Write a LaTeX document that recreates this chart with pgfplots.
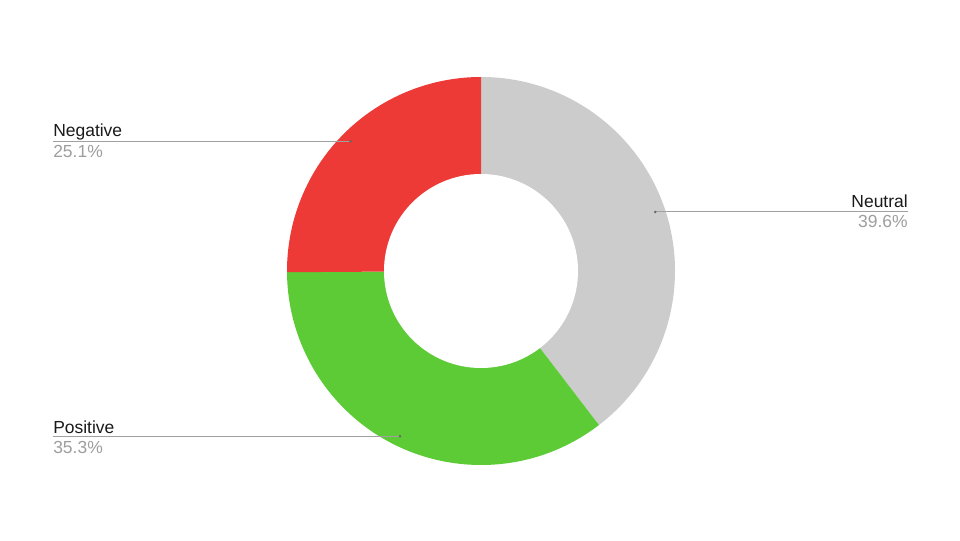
\documentclass[border=0pt]{standalone}
\usepackage{pgfplots}
\usepackage{pgfplotstable}
\pgfplotsset{compat=1.18}
\usepackage{fontspec}
\setmainfont{Liberation Sans}
\definecolor{neutralc}{HTML}{CCCCCC}
\definecolor{positivec}{HTML}{5DCB35}
\definecolor{negativec}{HTML}{EE3A36}
\definecolor{pctc}{HTML}{9E9E9E}
\definecolor{leadc}{HTML}{A0A0A0}
\definecolor{txtc}{HTML}{1A1A1A}

\pgfplotstableread{
label value
Neutral 39.6
Positive 35.3
Negative 25.1
}\piedata
\pgfplotstablegetelem{0}{value}\of\piedata \let\vA\pgfplotsretval
\pgfplotstablegetelem{1}{value}\of\piedata \let\vB\pgfplotsretval
\pgfplotstablegetelem{2}{value}\of\piedata \let\vC\pgfplotsretval
\pgfmathsetmacro\aA{90}
\pgfmathsetmacro\aB{\aA-\vA*3.6}
\pgfmathsetmacro\aC{\aB-\vB*3.6}
\pgfmathsetmacro\aD{\aC-\vC*3.6}
\pgfmathsetmacro\mA{(\aA+\aB)/2}
\pgfmathsetmacro\mB{(\aB+\aC)/2}
\pgfmathsetmacro\mC{(\aC+\aD)/2}

\newcommand{\lblfont}{\fontsize{13.1}{15}\selectfont}

\begin{document}
\begin{tikzpicture}
\begin{axis}[
  scale only axis, width=720pt, height=405pt,
  xmin=0, xmax=960, ymin=0, ymax=540,
  hide axis, clip=false,
]
\fill[white] (axis cs:0,0) rectangle (axis cs:960,540);
% sectors
\fill[neutralc] (axis cs:481,269) -- ++(\aA:145.5pt) arc[start angle=\aA, end angle=\aB, radius=145.5pt] -- cycle;
\fill[positivec] (axis cs:481,269) -- ++(\aB:145.5pt) arc[start angle=\aB, end angle=\aC, radius=145.5pt] -- cycle;
\fill[negativec] (axis cs:481,269) -- ++(\aC:145.5pt) arc[start angle=\aC, end angle=\aD, radius=145.5pt] -- cycle;
\fill[white] (axis cs:481,269) circle[radius=72.75pt];
% leader lines
\coordinate (lx) at (axis cs:53,0);
\coordinate (rx) at (axis cs:908,0);
\path (axis cs:481,269) ++(\mA:138pt) coordinate (dA);
\path (axis cs:481,269) ++(\mB:138pt) coordinate (dB);
\path (axis cs:481,269) ++(\mC:138pt) coordinate (dC);
\draw[leadc, line width=0.8pt] (dC) -- (dC -| lx);
\draw[leadc, line width=0.8pt] (dA) -- (dA -| rx);
\draw[leadc, line width=0.8pt] (dB) -- (dB -| lx);
\fill[gray!80!black] (dA) circle[radius=1pt];
\fill[gray!80!black] (dB) circle[radius=1pt];
\fill[gray!80!black] (dC) circle[radius=1pt];
% labels
\node[anchor=base west, inner sep=0pt, text=txtc, font=\lblfont] at (axis cs:53,403) {Negative};
\node[anchor=base west, inner sep=0pt, text=pctc, font=\lblfont] at (axis cs:53,382) {25.1\%};
\node[anchor=base east, inner sep=0pt, text=txtc, font=\lblfont] at (axis cs:908,332) {Neutral};
\node[anchor=base east, inner sep=0pt, text=pctc, font=\lblfont] at (axis cs:908,312) {39.6\%};
\node[anchor=base west, inner sep=0pt, text=txtc, font=\lblfont] at (axis cs:53,107) {Positive};
\node[anchor=base west, inner sep=0pt, text=pctc, font=\lblfont] at (axis cs:53,87) {35.3\%};
\end{axis}
\end{tikzpicture}
\end{document}
